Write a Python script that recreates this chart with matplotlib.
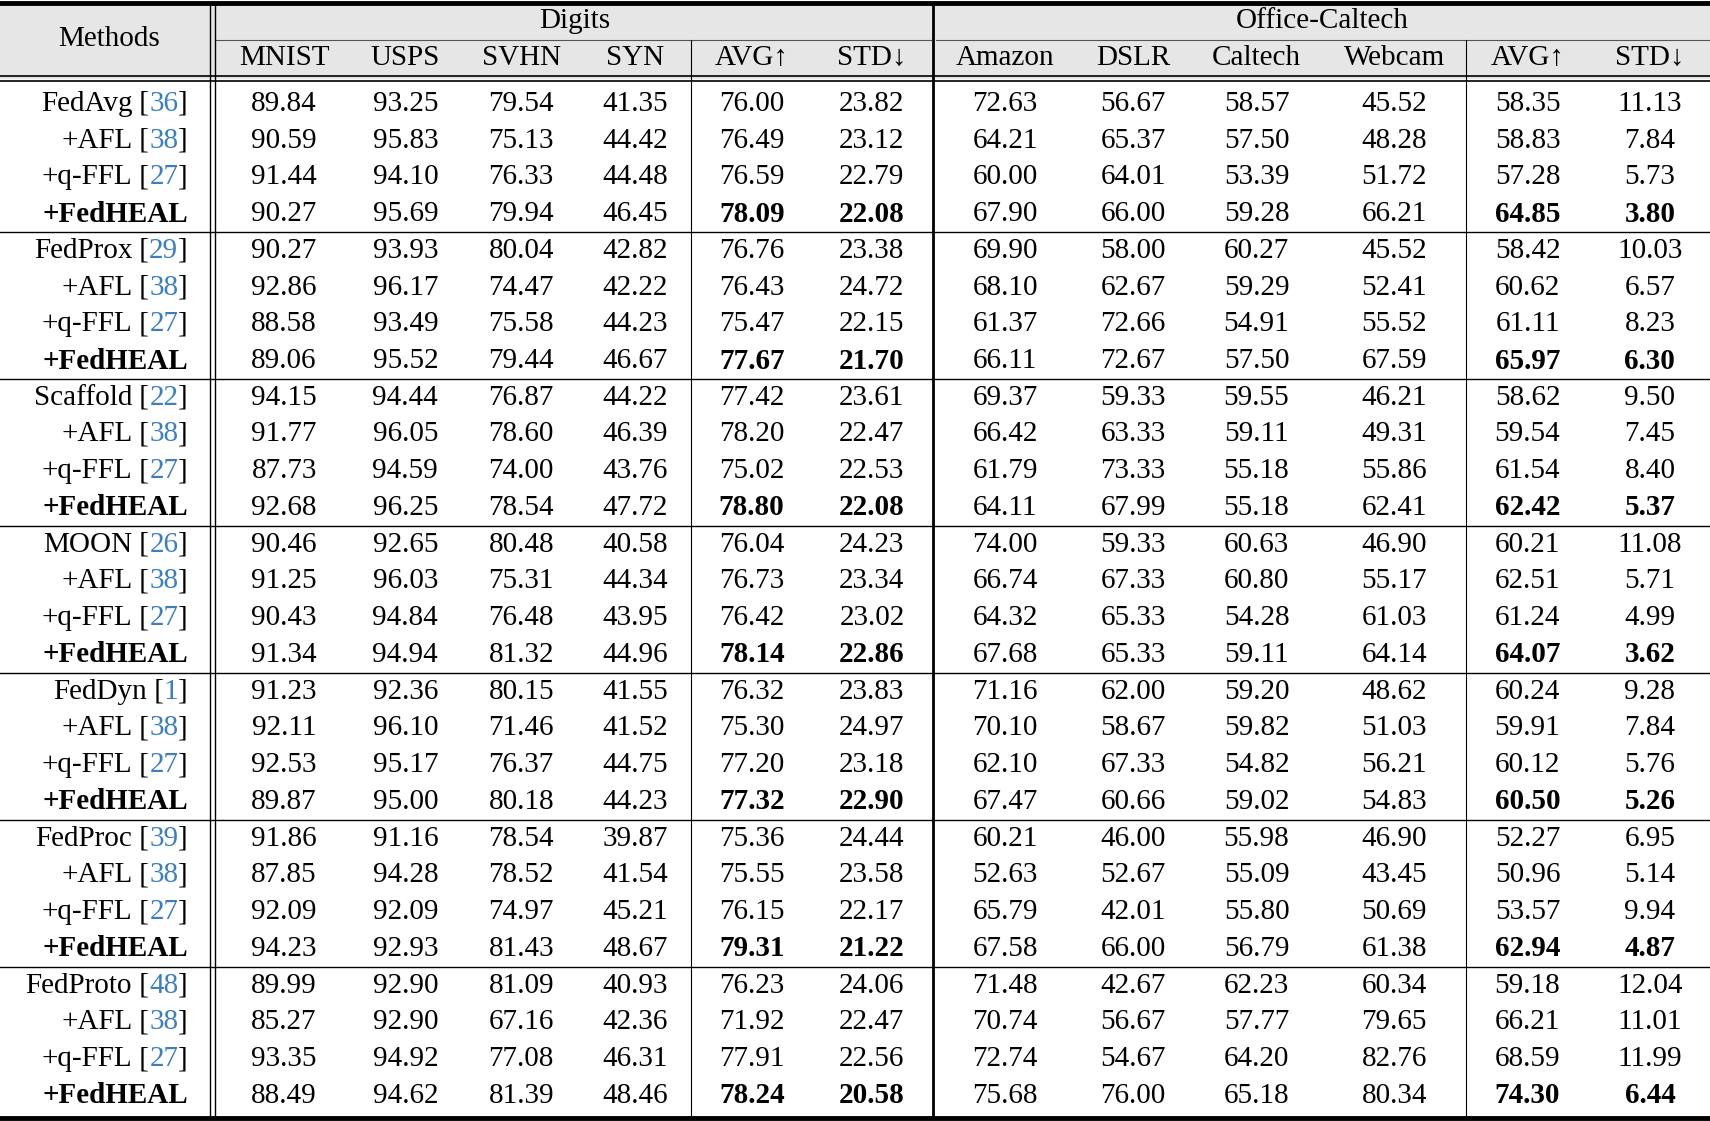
import matplotlib.pyplot as plt
from matplotlib.patches import Rectangle

plt.rcParams['font.family'] = ['Liberation Serif', 'DejaVu Serif']

digits_cols = ['MNIST', 'USPS', 'SVHN', 'SYN', 'AVG↑', 'STD↓']
office_cols = ['Amazon', 'DSLR', 'Caltech', 'Webcam', 'AVG↑', 'STD↓']

base_methods = ['FedAvg', 'FedProx', 'Scaffold', 'MOON', 'FedDyn', 'FedProc', 'FedProto']
base_refs = ['36', '29', '22', '26', '1', '39', '48']
variants = ['+AFL', '+q-FFL', '+FedHEAL']
variant_refs = ['38', '27', None]

rows = [
    [89.84, 93.25, 79.54, 41.35, 76.00, 23.82, 72.63, 56.67, 58.57, 45.52, 58.35, 11.13],
    [90.59, 95.83, 75.13, 44.42, 76.49, 23.12, 64.21, 65.37, 57.50, 48.28, 58.83, 7.84],
    [91.44, 94.10, 76.33, 44.48, 76.59, 22.79, 60.00, 64.01, 53.39, 51.72, 57.28, 5.73],
    [90.27, 95.69, 79.94, 46.45, 78.09, 22.08, 67.90, 66.00, 59.28, 66.21, 64.85, 3.80],
    [90.27, 93.93, 80.04, 42.82, 76.76, 23.38, 69.90, 58.00, 60.27, 45.52, 58.42, 10.03],
    [92.86, 96.17, 74.47, 42.22, 76.43, 24.72, 68.10, 62.67, 59.29, 52.41, 60.62, 6.57],
    [88.58, 93.49, 75.58, 44.23, 75.47, 22.15, 61.37, 72.66, 54.91, 55.52, 61.11, 8.23],
    [89.06, 95.52, 79.44, 46.67, 77.67, 21.70, 66.11, 72.67, 57.50, 67.59, 65.97, 6.30],
    [94.15, 94.44, 76.87, 44.22, 77.42, 23.61, 69.37, 59.33, 59.55, 46.21, 58.62, 9.50],
    [91.77, 96.05, 78.60, 46.39, 78.20, 22.47, 66.42, 63.33, 59.11, 49.31, 59.54, 7.45],
    [87.73, 94.59, 74.00, 43.76, 75.02, 22.53, 61.79, 73.33, 55.18, 55.86, 61.54, 8.40],
    [92.68, 96.25, 78.54, 47.72, 78.80, 22.08, 64.11, 67.99, 55.18, 62.41, 62.42, 5.37],
    [90.46, 92.65, 80.48, 40.58, 76.04, 24.23, 74.00, 59.33, 60.63, 46.90, 60.21, 11.08],
    [91.25, 96.03, 75.31, 44.34, 76.73, 23.34, 66.74, 67.33, 60.80, 55.17, 62.51, 5.71],
    [90.43, 94.84, 76.48, 43.95, 76.42, 23.02, 64.32, 65.33, 54.28, 61.03, 61.24, 4.99],
    [91.34, 94.94, 81.32, 44.96, 78.14, 22.86, 67.68, 65.33, 59.11, 64.14, 64.07, 3.62],
    [91.23, 92.36, 80.15, 41.55, 76.32, 23.83, 71.16, 62.00, 59.20, 48.62, 60.24, 9.28],
    [92.11, 96.10, 71.46, 41.52, 75.30, 24.97, 70.10, 58.67, 59.82, 51.03, 59.91, 7.84],
    [92.53, 95.17, 76.37, 44.75, 77.20, 23.18, 62.10, 67.33, 54.82, 56.21, 60.12, 5.76],
    [89.87, 95.00, 80.18, 44.23, 77.32, 22.90, 67.47, 60.66, 59.02, 54.83, 60.50, 5.26],
    [91.86, 91.16, 78.54, 39.87, 75.36, 24.44, 60.21, 46.00, 55.98, 46.90, 52.27, 6.95],
    [87.85, 94.28, 78.52, 41.54, 75.55, 23.58, 52.63, 52.67, 55.09, 43.45, 50.96, 5.14],
    [92.09, 92.09, 74.97, 45.21, 76.15, 22.17, 65.79, 42.01, 55.80, 50.69, 53.57, 9.94],
    [94.23, 92.93, 81.43, 48.67, 79.31, 21.22, 67.58, 66.00, 56.79, 61.38, 62.94, 4.87],
    [89.99, 92.90, 81.09, 40.93, 76.23, 24.06, 71.48, 42.67, 62.23, 60.34, 59.18, 12.04],
    [85.27, 92.90, 67.16, 42.36, 71.92, 22.47, 70.74, 56.67, 57.77, 79.65, 66.21, 11.01],
    [93.35, 94.92, 77.08, 46.31, 77.91, 22.56, 72.74, 54.67, 64.20, 82.76, 68.59, 11.99],
    [88.49, 94.62, 81.39, 48.46, 78.24, 20.58, 75.68, 76.00, 65.18, 80.34, 74.30, 6.44],
]

W, H = 1565, 1026
fig = plt.figure(figsize=(17.1, 11.21), dpi=100)
ax = fig.add_axes([0, 0, 1, 1])
ax.set_xlim(0, W)
ax.set_ylim(H, 0)
ax.axis('off')

fs = 21
cite_color = '#3a7fc0'
col_x = [260, 371, 477, 581, 688, 798, 920, 1037, 1150, 1276, 1398, 1510]
name_right = 172
row_y0, row_dy = 95, 33.63

# header background
ax.add_patch(Rectangle((0, 3), W, 68, color='#e6e6e6', zorder=0))
ax.text(100, 36, 'Methods', ha='center', va='center', fontsize=fs)
ax.text(526, 19, 'Digits', ha='center', va='center', fontsize=fs)
ax.text(1210, 19, 'Office-Caltech', ha='center', va='center', fontsize=fs)
for x, lab in zip(col_x, digits_cols + office_cols):
    ax.text(x, 53, lab, ha='center', va='center', fontsize=fs)

# rules
ax.plot([0, W], [3, 3], color='black', lw=3.5)
ax.plot([0, W], [70, 70], color='black', lw=1.2)
ax.plot([0, W], [74, 74], color='black', lw=1.2)
ax.plot([0, W], [1023, 1023], color='black', lw=3.5)
ax.plot([197, 852], [37, 37], color='#555555', lw=0.8)
ax.plot([857, W], [37, 37], color='#555555', lw=0.8)
for x in (192, 197):
    ax.plot([x, x], [3, 1023], color='black', lw=1)
ax.plot([854, 854], [3, 1023], color='black', lw=2)
for x in (632, 1342):
    ax.plot([x, x], [37, 1023], color='black', lw=0.8)

fig.canvas.draw()
renderer = fig.canvas.get_renderer()
inv = ax.transData.inverted()


def put_left(x_right, s, **kw):
    t = ax.text(x_right, 0, s, ha='right', va='center', fontsize=fs, **kw)
    bb = t.get_window_extent(renderer)
    return inv.transform((bb.x0, bb.y0))[0]


for i, vals in enumerate(rows):
    y = row_y0 + i * row_dy
    g, k = divmod(i, 4)
    if k == 0:
        name, ref = base_methods[g], base_refs[g]
        if g > 0:
            ax.plot([0, W], [y - 17, y - 17], color='black', lw=1)
    else:
        name, ref = variants[k - 1], variant_refs[k - 1]
    bold = (k == 3)
    if ref is None:
        ax.text(name_right, y, name, ha='right', va='center', fontsize=fs,
                fontweight='bold')
    else:
        x = name_right
        for s, c in [(']', 'black'), (ref, cite_color), (' [', 'black')]:
            t = ax.text(x, y, s, ha='right', va='center', fontsize=fs, color=c)
            bb = t.get_window_extent(renderer)
            x = inv.transform((bb.x0, bb.y0))[0]
        ax.text(x, y, name, ha='right', va='center', fontsize=fs)
    for j, (cx, v) in enumerate(zip(col_x, vals)):
        b = bold and j in (4, 5, 10, 11)
        ax.text(cx, y, f'{v:.2f}', ha='center', va='center', fontsize=fs,
                fontweight='bold' if b else 'normal')

fig.savefig('out.png', dpi=100)
